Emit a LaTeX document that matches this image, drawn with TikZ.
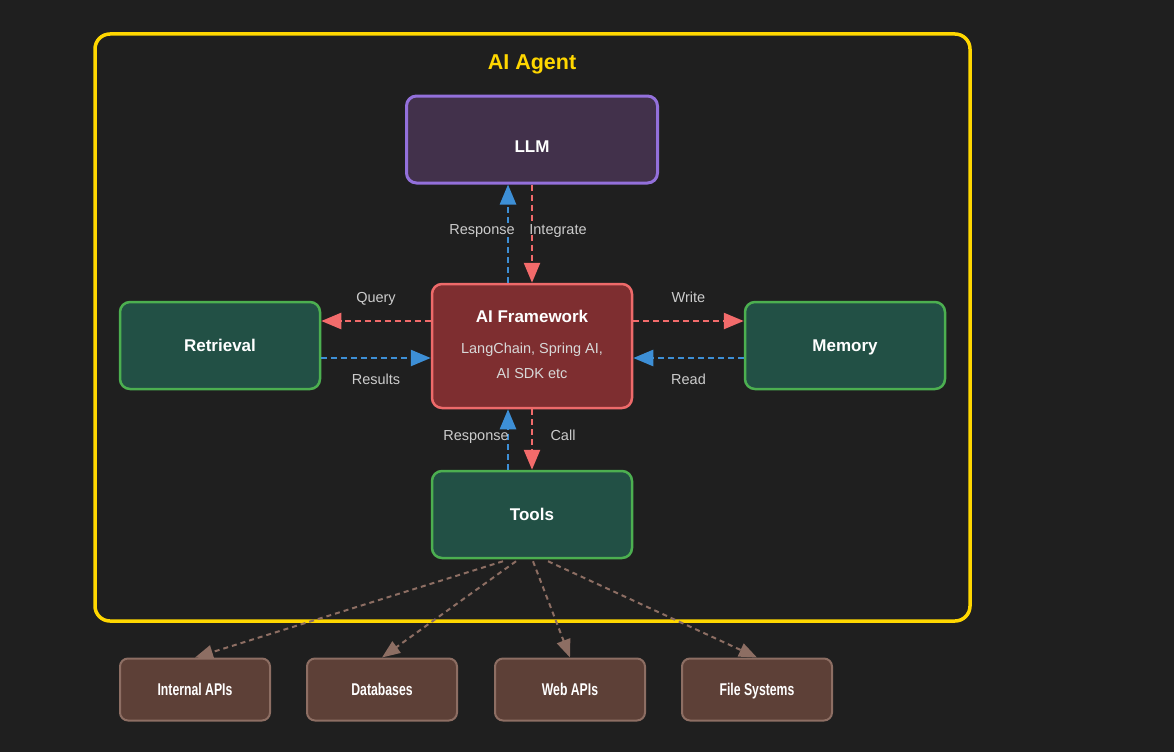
\documentclass[tikz,border=0pt]{standalone}
\usepackage{fontspec}
\usepackage{graphicx}
\setmainfont{Liberation Sans}
\usetikzlibrary{arrows.meta}
\definecolor{bg}{HTML}{1F1F1F}
\definecolor{gold}{HTML}{FFD700}
\definecolor{llmfill}{HTML}{42314B}
\definecolor{llmline}{HTML}{9370DB}
\definecolor{fwfill}{HTML}{7E2E30}
\definecolor{fwline}{HTML}{EE6A6A}
\definecolor{grfill}{HTML}{225045}
\definecolor{grline}{HTML}{4CAF50}
\definecolor{brfill}{HTML}{5D4037}
\definecolor{brline}{HTML}{8D6E63}
\definecolor{bluearr}{HTML}{3D8FD6}
\definecolor{redarr}{HTML}{F26B6B}
\definecolor{lblgray}{HTML}{CCCCCC}
\definecolor{subgray}{HTML}{D8D8D8}
\newcommand\fwsubfont{\fontsize{14.5}{25}\selectfont\mdseries\color{subgray}}
\tikzset{
  boxbase/.style={rectangle, rounded corners=10pt, inner sep=0pt, line width=2.5pt, text=white,
    font=\fontsize{17}{20}\selectfont\bfseries},
  box/.style={boxbase, text height=12.2pt, text depth=0pt},
  llmbox/.style={box, fill=llmfill, draw=llmline, line width=3pt, minimum width=251pt, minimum height=87pt},
  fwbox/.style={boxbase, fill=fwfill, draw=fwline, minimum width=200pt, minimum height=124pt},
  grbox/.style={box, fill=grfill, draw=grline, minimum width=200pt, minimum height=87pt},
  brbox/.style={box, fill=brfill, draw=brline, line width=2pt, rounded corners=8pt, minimum width=150pt, minimum height=62pt},
  agentbox/.style={rectangle, rounded corners=15pt, draw=gold, line width=3.5pt, minimum width=875pt, minimum height=587pt, inner sep=0pt},
  titletext/.style={text=gold, font=\fontsize{21.5}{24}\selectfont\bfseries, anchor=base, inner sep=0pt},
  lbl/.style={text=lblgray, font=\fontsize{14.5}{17}\selectfont, inner sep=1pt, text height=10.5pt, text depth=0pt},
  lblbg/.style={lbl, fill=bg},
  redflow/.style={draw=redarr, line width=2.5pt, dash pattern=on 6pt off 4pt, -{Triangle[length=20pt,width=16pt]}},
  blueflow/.style={draw=bluearr, line width=2.5pt, dash pattern=on 6pt off 4pt, -{Triangle[length=20pt,width=16pt]}},
  brflow/.style={draw=brline, line width=2pt, dash pattern=on 5pt off 4pt, -{Triangle[length=18pt,width=14pt]}},
}
\begin{document}
\begin{tikzpicture}[x=1pt,y=-1pt]
\fill[bg] (0,0) rectangle (1174,752);
\node[agentbox] (agent) at (532.5,327.5) {};
\node[titletext] (title) at (532,70) {AI Agent};
\node[llmbox] (llm) at (532,139.5) {\raisebox{-6.5pt}[0pt][0pt]{LLM}};
\node[fwbox] (fw) at (532,346) {\raisebox{3pt}{\begin{tabular}{@{}c@{}}AI Framework\\[11pt]\fwsubfont LangChain, Spring AI,\\[5pt]\fwsubfont AI SDK etc\end{tabular}}};
\node[grbox] (ret) at (220,345.5) {Retrieval};
\node[grbox] (mem) at (845,345.5) {Memory};
\node[grbox] (tools) at (532,514.5) {Tools};
\node[brbox] (iapi) at (195,689.5) {\scalebox{0.72}[1]{Internal APIs}};
\node[brbox] (db) at (382,689.5) {\scalebox{0.72}[1]{Databases}};
\node[brbox] (wapi) at (570,689.5) {\scalebox{0.72}[1]{Web APIs}};
\node[brbox] (fs) at (757,689.5) {\scalebox{0.72}[1]{File Systems}};
% LLM <-> framework
\draw[blueflow] ([xshift=-24pt]fw.north) -- ([xshift=-24pt]llm.south)
  node[lblbg, pos=0.545, xshift=-26pt] {Response};
\draw[redflow] (llm.south) -- (fw.north)
  node[lblbg, pos=0.455, xshift=26pt] {Integrate};
% Retrieval
\draw[redflow] ([yshift=25pt]fw.west) -- ([yshift=24.5pt]ret.east)
  node[lbl, midway, yshift=23.5pt] {Query};
\draw[blueflow] ([yshift=-12.5pt]ret.east) -- ([yshift=-12pt]fw.west)
  node[lbl, midway, yshift=-21pt] {Results};
% Memory
\draw[redflow] ([yshift=25pt]fw.east) -- ([yshift=24.5pt]mem.west)
  node[lbl, midway, yshift=23.5pt] {Write};
\draw[blueflow] ([yshift=-12.5pt]mem.west) -- ([yshift=-12pt]fw.east)
  node[lbl, midway, yshift=-21pt] {Read};
% Tools
\draw[blueflow] ([xshift=-24pt]tools.north) -- ([xshift=-24pt]fw.south);
\draw[redflow] (fw.south) -- (tools.north);
\node[lbl] (resp2) at (476,435) {Response};
\node[lbl] (call) at (563,435) {Call};
% External
\draw[brflow] ([xshift=-29pt,yshift=-2pt]tools.south) -- (iapi.north);
\draw[brflow] ([xshift=-16pt,yshift=-2pt]tools.south) -- (db.north);
\draw[brflow] ([xshift=1pt,yshift=-2pt]tools.south) -- (wapi.north);
\draw[brflow] ([xshift=16pt,yshift=-2pt]tools.south) -- (fs.north);
\end{tikzpicture}
\end{document}
